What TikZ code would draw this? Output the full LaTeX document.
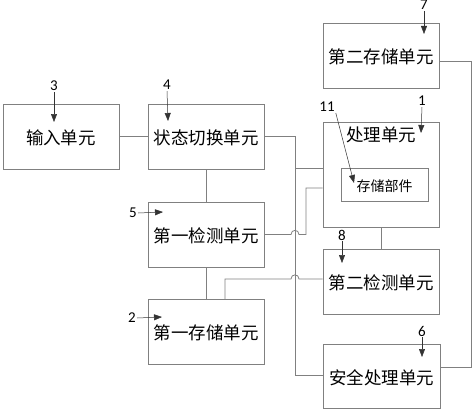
\documentclass[tikz,border=0pt]{standalone}
\usepackage{fontspec}
\newfontfamily\cjk{Noto Sans CJK SC}
\newfontfamily\numfont{Carlito}
\usetikzlibrary{arrows.meta}
\begin{document}
\begin{tikzpicture}[x=1pt,y=-1pt,
  box/.style={draw=black!50, line width=0.8pt, minimum width=116pt, minimum height=65pt, inner sep=0pt},
  txt/.style={font=\cjk\fontsize{17.5}{20}\selectfont, inner sep=0pt},
  conn/.style={draw=black!50, line width=0.8pt},
  num/.style={font=\numfont\fontsize{15}{17}\selectfont, inner sep=1pt},
  lead/.style={draw=black!80, line width=0.5pt, -{Triangle[length=8pt,width=6pt]}}]
\useasboundingbox (0,0) rectangle (474,412);
% boxes
\node[box] (inp) at (61,136.5) {};
\node[txt] (inpT) at (61,138) {输入单元};
\node[box] (sw) at (206,136.5) {};
\node[txt] (swT) at (206,138) {状态切换单元};
\node[box] (d1) at (206,234.5) {};
\node[txt] (d1T) at (206,236) {第一检测单元};
\node[box] (s1) at (206,331.5) {};
\node[txt] (s1T) at (206,333) {第一存储单元};
\node[box] (s2) at (381,55.5) {};
\node[txt] (s2T) at (381,57) {第二存储单元};
\node[box, minimum height=105pt] (proc) at (381,174.5) {};
\node[txt] (procT) at (381,135) {处理单元};
\node[draw=black!50, line width=0.8pt, minimum width=87pt, minimum height=33pt, inner sep=0pt] (part) at (384.5,184.5) {};
\node[font=\cjk\fontsize{14}{16}\selectfont, inner sep=0pt] (partT) at (384.5,186) {存储部件};
\node[box] (d2) at (381,281.5) {};
\node[txt] (d2T) at (381,283) {第二检测单元};
\node[box, minimum width=117pt, minimum height=64pt] (safe) at (381.5,376) {};
\node[txt] (safeT) at (381.5,377.5) {安全处理单元};
% connectors
\coordinate (bus) at (295,136.5);
\draw[conn] (inp) -- (sw);
\draw[conn] (sw.east) -- (bus) |- ([yshift=1pt]safe.west);
\coordinate (b1) at (295,168);
\draw[conn] (b1) -- (b1 -| proc.west);
\draw[conn] (d1.east) -- (291,234.5) .. controls (291,229) and (299,229) .. (299,234.5) -- (306,234.5) -- (306,188) -- (proc.west |- 0,188);
\coordinate (s1top) at (225,299);
\draw[conn] (s1top) -- (225,279) -- (291,279) .. controls (291,273.5) and (299,273.5) .. (299,279) -- (d2.west |- 0,279);
\draw[conn] (sw.south) -- (d1.north);
\draw[conn] (d1.south) -- (s1.north);
\draw[conn] (proc.south) -- (d2.north);
\draw[conn] ([yshift=-5.5pt]s2.east) -- (471,61) -- (471,367) -- ([yshift=9pt]safe.east);
% reference numerals
\node[num] (n3) at (54,86) {3};
\coordinate (a3) at (54,122);
\draw[lead] (n3.south) -- (a3);
\node[num] (n4) at (167,85) {4};
\coordinate (a4) at (168,121);
\draw[lead] (n4.south) -- (a4);
\node[num] (n5) at (133,213) {5};
\coordinate (a5) at (163,212);
\draw[lead] (n5.east) -- (a5);
\node[num] (n2) at (132,318) {2};
\coordinate (a2) at (162,317);
\draw[lead] (n2.east) -- (a2);
\node[num] (n8) at (342,235) {8};
\coordinate (a8) at (342,263);
\draw[lead] (n8.south) -- (a8);
\node[num] (n6) at (422,331) {6};
\coordinate (a6) at (422,357);
\draw[lead] (n6.south) -- (a6);
\node[num] (n7) at (424,5) {7};
\coordinate (a7) at (424,34);
\draw[lead] (n7.south) -- (a7);
\node[num] (n1) at (422,101) {1};
\coordinate (a1) at (421,133);
\draw[lead] (n1.south) -- (a1);
\node[num] (n11) at (327,107) {11};
\coordinate (a11) at (354,183);
\draw[lead] (n11.south east) -- (a11);
\end{tikzpicture}
\end{document}
